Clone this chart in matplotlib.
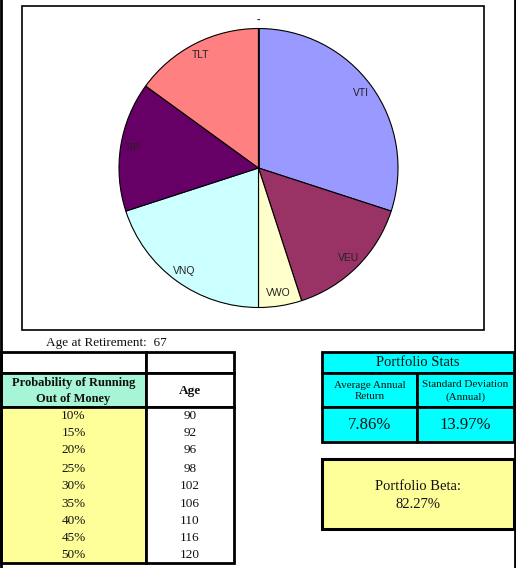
import matplotlib.pyplot as plt
from matplotlib.patches import Rectangle

# pie data (clockwise from 12 o'clock)
tickers = ["VTI", "VEU", "VWO", "VNQ", "TIP", "TLT", "-"]
weights = [30, 15, 5, 20, 15, 15, 0]
colors = ["#9999FF", "#993366", "#FFFFCC", "#CCFFFF", "#660066", "#FF8080", "#FFFFFF"]

retire_age = 67
probs = ["10%", "15%", "20%", "25%", "30%", "35%", "40%", "45%", "50%"]
ages = [90, 92, 96, 98, 102, 106, 110, 116, 120]

avg_return = "7.86%"
std_dev = "13.97%"
beta = "82.27%"

W, H = 516, 568
SERIF = "Liberation Serif"
SANS = "Liberation Sans"

fig = plt.figure(figsize=(W / 100, H / 100), dpi=100)

# page axes in pixel coords
ax = fig.add_axes([0, 0, 1, 1])
ax.set_xlim(0, W)
ax.set_ylim(H, 0)
ax.axis("off")


def box(x0, y0, x1, y1, fc="none", lw=2, z=1):
    ax.add_patch(Rectangle((x0, y0), x1 - x0, y1 - y0, facecolor=fc,
                           edgecolor="black", linewidth=lw, zorder=z))


def txt(x, y, s, size=9.5, weight="normal", family=SERIF, ls=1.2):
    ax.text(x, y, s, ha="center", va="center", fontsize=size,
            fontweight=weight, family=family, color="#111111", linespacing=ls)


# page edges
ax.plot([0.8, 0.8], [0, H], color="black", lw=2)
ax.plot([514.5, 514.5], [0, H], color="black", lw=2)

# chart frame
box(22, 6, 484, 330, fc="white", lw=1.2)

# pie
cx, cy, r = 258.5, 168, 139.5
pax = fig.add_axes([(cx - r) / W, (H - cy - r) / H, 2 * r / W, 2 * r / H])
wedges, labels = pax.pie(weights, labels=tickers, colors=colors, startangle=90,
                         counterclock=False, labeldistance=0.91,
                         wedgeprops=dict(edgecolor="black", linewidth=0.8),
                         textprops=dict(fontsize=7.5, family=SANS, color="#222222"))
for lab in labels:
    if lab.get_text() == "-":
        lab.set_position((0, 1.06))
        lab.set_fontweight("bold")
    lab.set_ha("center")
    lab.set_va("center")
pax.plot([0, 0], [0, 1], color="black", lw=1.2)
pax.set_xlim(-1.0, 1.0)
pax.set_ylim(-1.0, 1.0)
pax.set_aspect("equal")
pax.axis("off")
for w in wedges:
    w.set_clip_on(False)

# age at retirement
ax.text(46, 343, "Age at Retirement:  " + str(retire_age), ha="left", va="center",
        fontsize=9.5, family=SERIF, color="#111111")

# left table
tx0, tx1, tx2 = 1, 146, 234
box(tx0, 352, tx1, 373, fc="white")
box(tx1, 352, tx2, 373, fc="white")
box(tx0, 373, tx1, 407, fc="#A6F5D6")
box(tx1, 373, tx2, 407, fc="white")
box(tx0, 407, tx1, 563, fc="#FFFF99")
box(tx1, 407, tx2, 563, fc="white")
txt((tx0 + tx1) / 2, 391, "Probability of Running\nOut of Money", size=9, weight="bold", ls=1.45)
txt((tx1 + tx2) / 2, 391, "Age", size=9.5, weight="bold")
row_y = [416, 433, 450, 469, 486, 504, 521, 538, 555]
for y, p, a in zip(row_y, probs, ages):
    txt((tx0 + tx1) / 2, y, p)
    txt((tx1 + tx2) / 2, y, str(a))

# portfolio stats
sx0, sx1, sx2 = 322, 417, 514
box(sx0, 352, sx2, 373, fc="#00FFFF")
box(sx0, 373, sx1, 407, fc="#00FFFF")
box(sx1, 373, sx2, 407, fc="#00FFFF")
box(sx0, 407, sx1, 442, fc="#00FFFF")
box(sx1, 407, sx2, 442, fc="#00FFFF")
txt((sx0 + sx2) / 2, 363, "Portfolio Stats", size=10.5)
txt((sx0 + sx1) / 2, 391, "Average Annual\nReturn", size=8, ls=1.35)
txt((sx1 + sx2) / 2, 391, "Standard Deviation\n(Annual)", size=8, ls=1.35)
txt((sx0 + sx1) / 2, 425, avg_return, size=12)
txt((sx1 + sx2) / 2, 425, std_dev, size=12)

# beta box
box(sx0, 459, sx2, 529, fc="#FFFF99", lw=2.2)
txt((sx0 + sx2) / 2, 495, "Portfolio Beta:\n" + beta, size=10.5, ls=1.5)

fig.savefig("out.png", dpi=100, facecolor="white")
